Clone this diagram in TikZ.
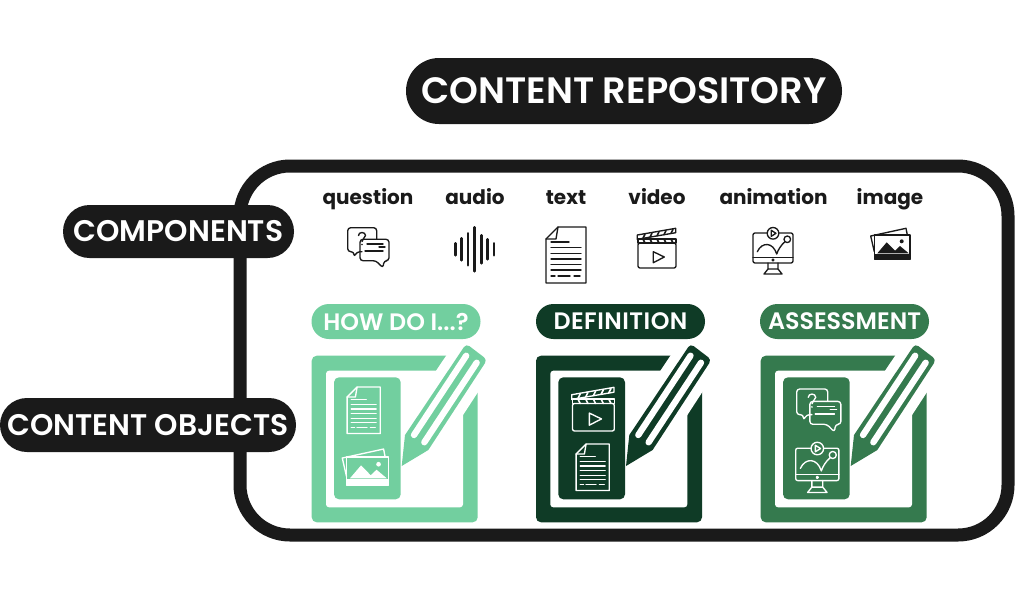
\documentclass[tikz,border=0pt]{standalone}
\usepackage{fontspec}
\setmainfont{Poppins}
\newfontfamily\semifont{Poppins SemiBold}
\definecolor{inkblk}{HTML}{1A1A1A}
\definecolor{glight}{HTML}{72CF9F}
\definecolor{gdark}{HTML}{0F3B26}
\definecolor{gmid}{HTML}{357A4E}
\tikzset{
  pill/.style={fill=inkblk,text=white,font=\semifont\fontsize{#1}{#1}\selectfont,inner sep=0pt,anchor=center},
  tag/.style={font=\bfseries\fontsize{20}{20}\selectfont,text=inkblk,inner sep=0pt,anchor=base},
  gtag/.style={fill=#1,text=white,font=\semifont\fontsize{23.8}{24}\selectfont,minimum width=169pt,minimum height=35pt,rounded corners=17.4pt,inner sep=0pt},
  ic/.style={line width=1.35pt,line join=round,line cap=round},
  pics/txticon/.style={code={
    \begin{scope}[ic,draw=#1]
    \draw (-20,-16) -- (-8,-28) -- (20,-28) -- (20,28) -- (-20,28) -- cycle;
    \draw (-20,-16) -- (-10,-16) -- (-8,-28);
    \draw (-15,-13) -- (3,-13);
    \foreach \yy in {-7.3,-1.7,4,9.7,15} \draw (-15,\yy) -- (15,\yy);
    \draw (-15,21) -- (-11,21) (-8,21) -- (4,21) (8,21) -- (14,21);
    \end{scope}}},
  pics/qicon/.style={code={
    \begin{scope}[ic,draw=#1]
    \draw[rounded corners=3pt] (-6,3.7) -- (-11,3.7) -- (-14,9) -- (-14,3.7) -- (-20.3,3.7) -- (-20.3,-20.3) -- (8.7,-20.3) -- (8.7,-9);
    \draw[rounded corners=3pt] (-8,-8.7) -- (21,-8.7) -- (21,12.7) -- (16,12.7) -- (15,20) -- (8,12.7) -- (-8,12.7) -- cycle;
    \draw (-1,-4) -- (15,-4) (-3,3) -- (15,3) (11,-1) -- (17,-1);
    \draw (-9.5,-12.5) .. controls (-9.5,-16.5) and (-2.5,-16.5) .. (-2.5,-12.5) .. controls (-2.5,-9.5) and (-6,-10) .. (-6,-6.5);
    \fill[#1] (-6,-3.5) circle (0.9);
    \end{scope}}},
  pics/vidicon/.style={code={
    \begin{scope}[ic,draw=#1]
    \draw[rounded corners=2pt] (-19,-6) rectangle (19,19);
    \draw (-19,-10) rectangle (19,-6);
    \draw (-19.7,-14) -- (18.7,-20.7) -- (18.7,-16.3) -- (-19.7,-9.7) -- cycle;
    \foreach \xx in {-14,-7,0,7,14} {\draw[line width=1.6pt] (\xx,-10) -- (\xx+2,-6);
      \draw[line width=1.6pt] (\xx,{-13.2-\xx*0.175}) -- (\xx+2,{-17.2-\xx*0.175});}
    \draw (-3.7,2.7) -- (-3.7,13.7) -- (7.3,8) -- cycle;
    \end{scope}}},
  pics/aniicon/.style={code={
    \begin{scope}[ic,draw=#1]
    \draw[rounded corners=2pt] (-6,-20) -- (-20,-20) -- (-20,10) -- (20,10) -- (20,-20) -- (6,-20);
    \draw (-20,4.3) -- (20,4.3);
    \draw (0,-19.7) circle (5.8);
    \draw (-1.8,-22.7) -- (-1.8,-16.7) -- (3,-19.7) -- cycle;
    \draw (14.3,-13.7) circle (3.3);
    \draw (0,7) circle (1);
    \draw (-15.7,-1.3) .. controls (-11,-11.5) and (0,-11) .. (3.7,1) .. controls (5,-3) and (8,-8) .. (12,-11.3);
    \draw (-5,10) -- (-5,16) -- (5,16) -- (5,10) (-5,16) -- (-9,21) -- (9,21) -- (5,16);
    \end{scope}}},
  pics/imgicon/.style={code={
    \begin{scope}[ic,draw=#1]
    \draw (-17.7,4.7) -- (-21.3,-11) -- (14,-18.7) -- (15.3,-12);
    \draw (-17.7,-12) rectangle (18,12.3);
    \fill[#1] (-14.7,6.3) -- (-5.3,-4.7) -- (3,3.7) -- (8,-1) -- (16.7,6.3) -- cycle;
    \fill[#1] (-17.7,7) rectangle (18,12.3);
    \fill[#1] (9.7,-5.7) circle (2);
    \end{scope}}},
  pics/penframe/.style={code={
    \fill[#1,rounded corners=5pt] (0,0) rectangle (166,166.6);
    \fill[white,rounded corners=3pt] (14.3,15) rectangle (151.3,151.6);
    \draw[white,line width=20pt,line join=round] (93.3,79.3) -- (154.5,-12) -- (175.5,4) -- (116.6,94.3) -- (90,110.3) -- cycle;
    \fill[#1,rounded corners=5pt] (22.3,21.6) rectangle (89,143.6);
    \fill[#1] (90,110.3) -- (93.3,79.3) [rounded corners=4pt] -- (154.5,-12) -- (175.5,4) [sharp corners] -- (116.6,94.3) -- cycle;
    \draw[white,line width=6.3pt,line cap=round] (102.3,79.3) -- (154.5,0);
    \draw[white,line width=6.3pt,line cap=round] (112.6,86.6) -- (165,7);
  }}
}
\begin{document}
\begin{tikzpicture}[x=1pt,y=-1pt]
\useasboundingbox (0,0) rectangle (1024,614);
\fill[white] (0,0) rectangle (1024,614);
\node[pill=36.7,minimum width=436pt,minimum height=66pt,rounded corners=33pt] (repo) at (624,91) {\raisebox{-0.8pt}{CONTENT REPOSITORY}};
\draw[inkblk,line width=13pt,rounded corners=50pt] (240,166) rectangle (1008,535);
\node[pill=29.8,minimum width=231pt,minimum height=53pt,rounded corners=26.5pt] (comp) at (178.5,231.5) {COMPONENTS};
\node[pill=29.8,minimum width=296pt,minimum height=54pt,rounded corners=27pt] (objs) at (148,425) {CONTENT OBJECTS};
\node[tag] (tq) at (368,204.7) {question};
\node[tag] (ta) at (475,204.7) {audio};
\node[tag] (tt) at (566,204.7) {text};
\node[tag] (tv) at (657,204.7) {video};
\node[tag] (tn) at (773.5,204.7) {animation};
\node[tag] (ti) at (890,204.7) {image};
\pic at (368,248) {qicon=inkblk};
\begin{scope}[shift={(474.7,249.3)},inkblk,line width=2.6pt,line cap=round]
\draw (-19.4,-6) -- (-19.4,6) (-13,-11) -- (-13,11) (-6.7,-16) -- (-6.7,16) (0,-22) -- (0,22) (6.6,-14) -- (6.6,14) (13,-10) -- (13,10) (19.3,-6) -- (19.3,6);
\end{scope}
\pic at (566,255) {txticon=inkblk};
\pic at (657,249) {vidicon=inkblk};
\pic at (773,253) {aniicon=inkblk};
\pic at (892,247) {imgicon=inkblk};
\pic at (311.7,355.7) {penframe=glight};
\pic at (536,355.7) {penframe=gdark};
\pic at (760.7,355.7) {penframe=gmid};
\node[gtag=glight] (g1) at (396,321.5) {HOW DO I...?};
\node[gtag=gdark] (g2) at (620.5,321.5) {\addfontfeature{LetterSpace=2}DEFINITION};
\node[gtag=gmid] (g3) at (844.5,321.5) {ASSESSMENT};
\pic[scale=0.83,transform shape] at (363.7,410.3) {txticon=white};
\pic[scale=1.17,transform shape] at (367.2,470.9) {imgicon=white};
\pic[scale=1.1,transform shape] at (593.4,410.1) {vidicon=white};
\pic[scale=0.83,transform shape] at (592.7,467.3) {txticon=white};
\pic[scale=1.07,transform shape] at (818.4,410.7) {qicon=white};
\pic[scale=1.08,transform shape] at (817.3,469.8) {aniicon=white};
\end{tikzpicture}
\end{document}
